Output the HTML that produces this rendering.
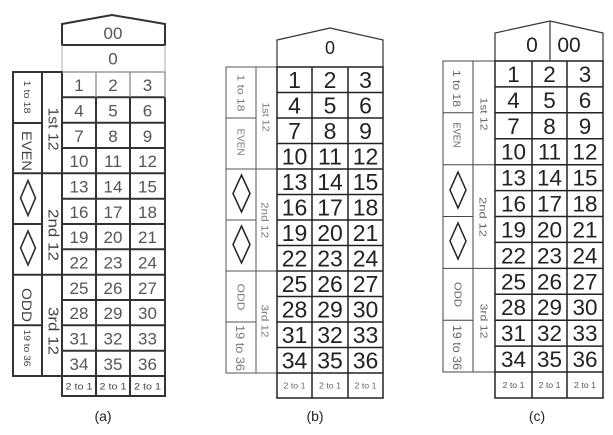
<!DOCTYPE html>
<html><head><meta charset="utf-8"><style>
html,body{margin:0;padding:0;background:#fff;}
svg{display:block;}
text{font-family:"Liberation Sans",sans-serif;}
</style></head><body>
<svg width="613" height="435" viewBox="0 0 613 435" xmlns="http://www.w3.org/2000/svg">
<rect width="613" height="435" fill="#fff"/>

<!-- ================= PANEL (a) ================= -->
<g fill="none" stroke="#333" stroke-width="2">
  <path d="M62,45 L62,24 L112,15 L165,24 L165,45 Z"/>
</g>
<g stroke="#aaa" stroke-width="1" fill="none">
  <path d="M62,45 V72 M165,45 V72"/>
</g>
<g fill="none" stroke="#333" stroke-width="2">
  <rect x="13" y="72" width="49" height="304"/>
  <path d="M42,72 V376"/>
  <path d="M13,123 H42 M13,173.3 H62 M13,224 H42 M13,274.7 H62 M13,325.3 H42"/>
  <path d="M62,72 V396 H165 V97.3"/>
  <path d="M96,97.3 V396 M130,97.3 V396"/>
  <path d="M62,97.3 H165 M62,122.7 H165 M62,148 H165 M62,173.3 H165 M62,198.7 H165 M62,224 H165 M62,249.3 H165 M62,274.7 H165 M62,300 H165 M62,325.3 H165 M62,350.7 H165 M62,376 H165"/>
</g>
<g fill="none" stroke="#888" stroke-width="1.3">
  <path d="M62,72 H165 M96,72 V97.3 M130,72 V97.3 M165,72 V97.3"/>
</g>
<g fill="none" stroke="#333" stroke-width="1.6">
  <path d="M28,180.5 L35.5,198 L28,215.5 L20.5,198 Z"/>
  <path d="M28,231 L35.5,248 L28,265 L20.5,248 Z"/>
</g>
<g fill="#555" font-size="17" text-anchor="middle">
  <text x="113" y="39">00</text>
  <text x="113" y="64.5">0</text>
</g>
<g fill="#555" font-size="17" text-anchor="middle">
  <text x="79" y="91.2">1</text><text x="113" y="91.2">2</text><text x="147.5" y="91.2">3</text>
  <text x="79" y="116.5">4</text><text x="113" y="116.5">5</text><text x="147.5" y="116.5">6</text>
  <text x="79" y="141.8">7</text><text x="113" y="141.8">8</text><text x="147.5" y="141.8">9</text>
  <text x="79" y="167.2">10</text><text x="113" y="167.2">11</text><text x="147.5" y="167.2">12</text>
  <text x="79" y="192.5">13</text><text x="113" y="192.5">14</text><text x="147.5" y="192.5">15</text>
  <text x="79" y="217.8">16</text><text x="113" y="217.8">17</text><text x="147.5" y="217.8">18</text>
  <text x="79" y="243.1">19</text><text x="113" y="243.1">20</text><text x="147.5" y="243.1">21</text>
  <text x="79" y="268.5">22</text><text x="113" y="268.5">23</text><text x="147.5" y="268.5">24</text>
  <text x="79" y="293.8">25</text><text x="113" y="293.8">26</text><text x="147.5" y="293.8">27</text>
  <text x="79" y="319.1">28</text><text x="113" y="319.1">29</text><text x="147.5" y="319.1">30</text>
  <text x="79" y="344.5">31</text><text x="113" y="344.5">32</text><text x="147.5" y="344.5">33</text>
  <text x="79" y="369.8">34</text><text x="113" y="369.8">35</text><text x="147.5" y="369.8">36</text>
</g>
<g fill="#444" font-size="9.5" text-anchor="middle">
  <text x="79" y="389.5" textLength="27" lengthAdjust="spacingAndGlyphs">2 to 1</text>
  <text x="113" y="389.5" textLength="27" lengthAdjust="spacingAndGlyphs">2 to 1</text>
  <text x="147.5" y="389.5" textLength="27" lengthAdjust="spacingAndGlyphs">2 to 1</text>
</g>
<g fill="#444" text-anchor="middle" dominant-baseline="central">
  <text transform="translate(27,97) rotate(90)" font-size="9" textLength="33" lengthAdjust="spacingAndGlyphs">1 to 18</text>
  <text transform="translate(27,151) rotate(90)" font-size="14" textLength="40" lengthAdjust="spacingAndGlyphs">EVEN</text>
  <text transform="translate(53,129) rotate(90)" font-size="15" textLength="43" lengthAdjust="spacingAndGlyphs">1st 12</text>
  <text transform="translate(53,235) rotate(90)" font-size="15" textLength="52" lengthAdjust="spacingAndGlyphs">2nd 12</text>
  <text transform="translate(53,331) rotate(90)" font-size="15" textLength="48" lengthAdjust="spacingAndGlyphs">3rd 12</text>
  <text transform="translate(27,305) rotate(90)" font-size="14" textLength="34" lengthAdjust="spacingAndGlyphs">ODD</text>
  <text transform="translate(27,348) rotate(90)" font-size="9" textLength="37" lengthAdjust="spacingAndGlyphs">19 to 36</text>
</g>
<text x="103" y="421" font-size="14" fill="#222" text-anchor="middle">(a)</text>

<!-- ================= PANEL (b) ================= -->
<g fill="none" stroke="#333" stroke-width="1.2">
  <path d="M277,67 L277,40 L330,28 L383,40 L383,67"/>
</g>
<g fill="none" stroke="#555" stroke-width="1">
  <rect x="226" y="67" width="51" height="306"/>
  <path d="M256,67 V373"/>
  <path d="M226,118 H256 M226,169 H277 M226,220 H256 M226,271 H277 M226,322 H256"/>
</g>
<g fill="none" stroke="#222" stroke-width="1.5">
  <rect x="277" y="67" width="106" height="331"/>
  <path d="M312,67 V398 M348,67 V398"/>
  <path d="M277,92.5 H383 M277,118 H383 M277,143.5 H383 M277,169 H383 M277,194.5 H383 M277,220 H383 M277,245.5 H383 M277,271 H383 M277,296.5 H383 M277,322 H383 M277,347.5 H383 M277,373 H383"/>
</g>
<g fill="none" stroke="#222" stroke-width="1.5">
  <path d="M241.5,175 L250,193.5 L241.5,212 L233,193.5 Z"/>
  <path d="M241.5,226 L250,244.5 L241.5,263 L233,244.5 Z"/>
</g>
<text x="330" y="54" font-size="18" fill="#222" text-anchor="middle">0</text>
<g fill="#222" font-size="23" text-anchor="middle">
  <text x="294.5" y="88">1</text><text x="330" y="88">2</text><text x="365.5" y="88">3</text>
  <text x="294.5" y="113.5">4</text><text x="330" y="113.5">5</text><text x="365.5" y="113.5">6</text>
  <text x="294.5" y="139">7</text><text x="330" y="139">8</text><text x="365.5" y="139">9</text>
  <text x="294.5" y="164.5">10</text><text x="330" y="164.5">11</text><text x="365.5" y="164.5">12</text>
  <text x="294.5" y="190">13</text><text x="330" y="190">14</text><text x="365.5" y="190">15</text>
  <text x="294.5" y="215.5">16</text><text x="330" y="215.5">17</text><text x="365.5" y="215.5">18</text>
  <text x="294.5" y="241">19</text><text x="330" y="241">20</text><text x="365.5" y="241">21</text>
  <text x="294.5" y="266.5">22</text><text x="330" y="266.5">23</text><text x="365.5" y="266.5">24</text>
  <text x="294.5" y="292">25</text><text x="330" y="292">26</text><text x="365.5" y="292">27</text>
  <text x="294.5" y="317.5">28</text><text x="330" y="317.5">29</text><text x="365.5" y="317.5">30</text>
  <text x="294.5" y="343">31</text><text x="330" y="343">32</text><text x="365.5" y="343">33</text>
  <text x="294.5" y="368.5">34</text><text x="330" y="368.5">35</text><text x="365.5" y="368.5">36</text>
</g>
<g fill="#666" font-size="8" text-anchor="middle">
  <text x="294.5" y="388.5" textLength="22" lengthAdjust="spacingAndGlyphs">2 to 1</text>
  <text x="330" y="388.5" textLength="22" lengthAdjust="spacingAndGlyphs">2 to 1</text>
  <text x="365.5" y="388.5" textLength="22" lengthAdjust="spacingAndGlyphs">2 to 1</text>
</g>
<g fill="#777" text-anchor="middle" dominant-baseline="central">
  <text transform="translate(240,93) rotate(90)" font-size="10" textLength="37" lengthAdjust="spacingAndGlyphs">1 to 18</text>
  <text transform="translate(240,142) rotate(90)" font-size="10" textLength="27" lengthAdjust="spacingAndGlyphs">EVEN</text>
  <text transform="translate(265,117) rotate(90)" font-size="10" textLength="29" lengthAdjust="spacingAndGlyphs">1st 12</text>
  <text transform="translate(264,220) rotate(90)" font-size="10" textLength="36" lengthAdjust="spacingAndGlyphs">2nd 12</text>
  <text transform="translate(264,321) rotate(90)" font-size="10" textLength="33" lengthAdjust="spacingAndGlyphs">3rd 12</text>
  <text transform="translate(240,297) rotate(90)" font-size="10" textLength="27" lengthAdjust="spacingAndGlyphs">ODD</text>
  <text transform="translate(240,348) rotate(90)" font-size="12" textLength="46" lengthAdjust="spacingAndGlyphs">19 to 36</text>
</g>
<text x="315" y="421" font-size="14" fill="#222" text-anchor="middle">(b)</text>

<!-- ================= PANEL (c) ================= -->
<g fill="none" stroke="#333" stroke-width="1.2">
  <path d="M495,61 L495,33 L550,21 L603,33 L603,61"/>
  <path d="M550,21 V61"/>
</g>
<g fill="none" stroke="#444" stroke-width="1">
  <rect x="443" y="61" width="52" height="311"/>
  <path d="M473,61 V372"/>
  <path d="M443,112.8 H473 M443,164.7 H495 M443,216.5 H473 M443,268.4 H495 M443,320.2 H473"/>
</g>
<g fill="none" stroke="#222" stroke-width="1.5">
  <rect x="495" y="61" width="108" height="337"/>
  <path d="M532,61 V398 M567,61 V398"/>
  <path d="M495,86.9 H603 M495,112.8 H603 M495,138.8 H603 M495,164.7 H603 M495,190.6 H603 M495,216.5 H603 M495,242.4 H603 M495,268.4 H603 M495,294.3 H603 M495,320.2 H603 M495,346.1 H603 M495,372 H603"/>
</g>
<g fill="none" stroke="#222" stroke-width="1.5">
  <path d="M458,172 L466,190 L458,208 L450,190 Z"/>
  <path d="M458,223 L466,241 L458,259 L450,241 Z"/>
</g>
<g fill="#222" font-size="21" text-anchor="middle">
  <text x="532" y="52">0</text>
  <text x="569" y="52">00</text>
</g>
<g fill="#222" font-size="22.5" text-anchor="middle">
  <text x="513.5" y="82">1</text><text x="549.5" y="82">2</text><text x="585" y="82">3</text>
  <text x="513.5" y="107.9">4</text><text x="549.5" y="107.9">5</text><text x="585" y="107.9">6</text>
  <text x="513.5" y="133.8">7</text><text x="549.5" y="133.8">8</text><text x="585" y="133.8">9</text>
  <text x="513.5" y="159.7">10</text><text x="549.5" y="159.7">11</text><text x="585" y="159.7">12</text>
  <text x="513.5" y="185.6">13</text><text x="549.5" y="185.6">14</text><text x="585" y="185.6">15</text>
  <text x="513.5" y="211.6">16</text><text x="549.5" y="211.6">17</text><text x="585" y="211.6">18</text>
  <text x="513.5" y="237.5">19</text><text x="549.5" y="237.5">20</text><text x="585" y="237.5">21</text>
  <text x="513.5" y="263.4">22</text><text x="549.5" y="263.4">23</text><text x="585" y="263.4">24</text>
  <text x="513.5" y="289.3">25</text><text x="549.5" y="289.3">26</text><text x="585" y="289.3">27</text>
  <text x="513.5" y="315.2">28</text><text x="549.5" y="315.2">29</text><text x="585" y="315.2">30</text>
  <text x="513.5" y="341.2">31</text><text x="549.5" y="341.2">32</text><text x="585" y="341.2">33</text>
  <text x="513.5" y="367.1">34</text><text x="549.5" y="367.1">35</text><text x="585" y="367.1">36</text>
</g>
<g fill="#555" font-size="8" text-anchor="middle">
  <text x="513.5" y="388" textLength="22" lengthAdjust="spacingAndGlyphs">2 to 1</text>
  <text x="549.5" y="388" textLength="22" lengthAdjust="spacingAndGlyphs">2 to 1</text>
  <text x="585" y="388" textLength="22" lengthAdjust="spacingAndGlyphs">2 to 1</text>
</g>
<g fill="#666" text-anchor="middle" dominant-baseline="central">
  <text transform="translate(456,88.5) rotate(90)" font-size="11" textLength="37" lengthAdjust="spacingAndGlyphs">1 to 18</text>
  <text transform="translate(456,135) rotate(90)" font-size="10" textLength="25" lengthAdjust="spacingAndGlyphs">EVEN</text>
  <text transform="translate(483,114) rotate(90)" font-size="10" textLength="33" lengthAdjust="spacingAndGlyphs">1st 12</text>
  <text transform="translate(482,217) rotate(90)" font-size="10" textLength="40" lengthAdjust="spacingAndGlyphs">2nd 12</text>
  <text transform="translate(483,321) rotate(90)" font-size="10" textLength="35" lengthAdjust="spacingAndGlyphs">3rd 12</text>
  <text transform="translate(457,294.5) rotate(90)" font-size="10" textLength="25" lengthAdjust="spacingAndGlyphs">ODD</text>
  <text transform="translate(457,347.5) rotate(90)" font-size="12" textLength="45" lengthAdjust="spacingAndGlyphs">19 to 36</text>
</g>
<text x="537" y="421" font-size="14" fill="#222" text-anchor="middle">(c)</text>
</svg>
</body></html>
